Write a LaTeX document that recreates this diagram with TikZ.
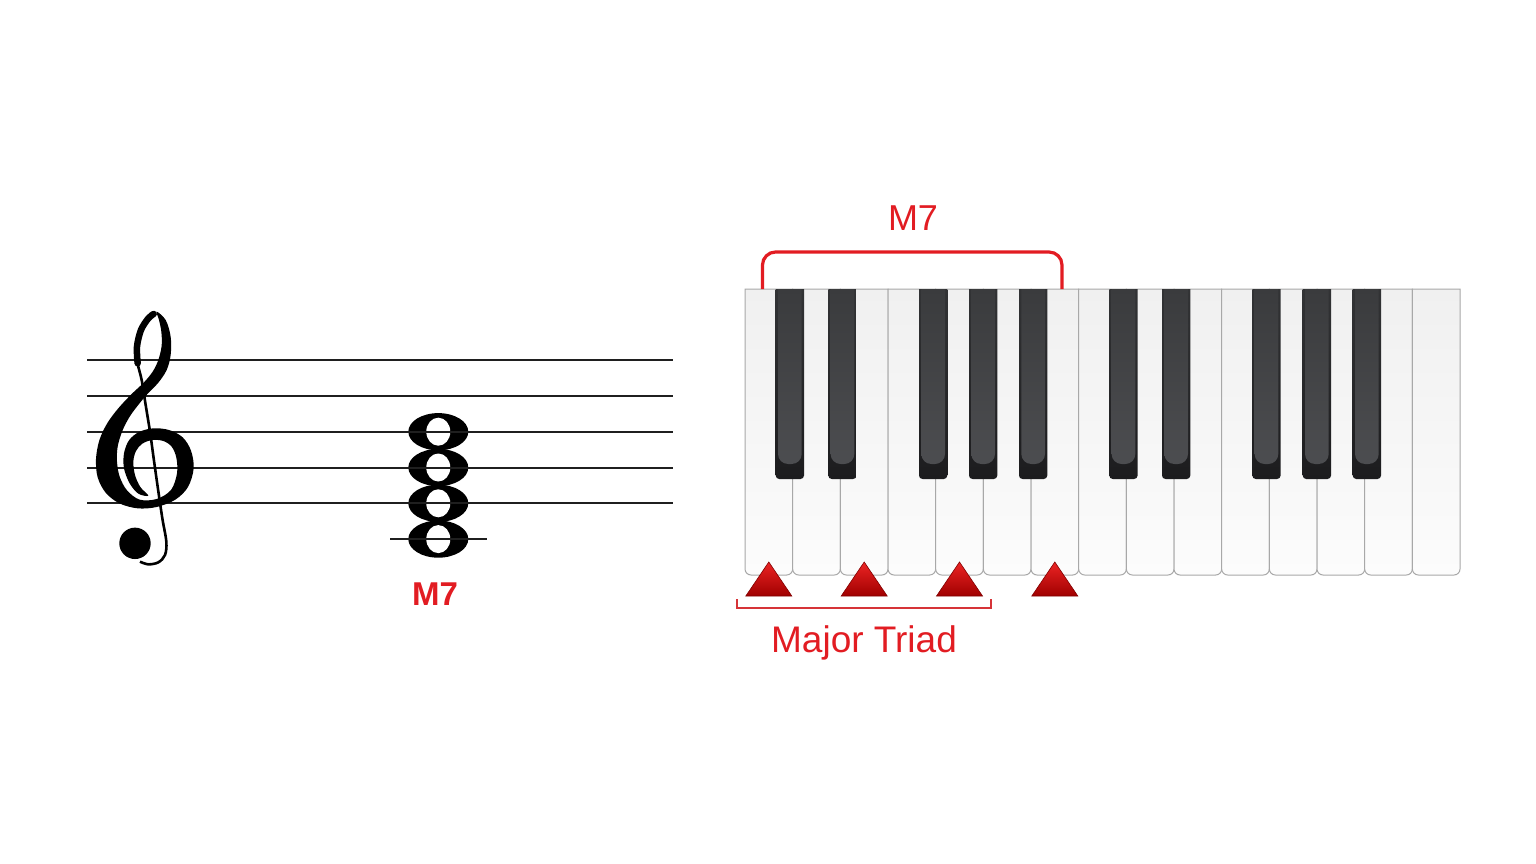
\documentclass[tikz,border=0pt]{standalone}
\usepackage{fontspec}
\setmainfont{Liberation Sans}
\definecolor{mred}{RGB}{226,28,34}
\definecolor{bred}{RGB}{214,52,56}
\definecolor{tria}{RGB}{236,36,36}
\definecolor{trib}{RGB}{160,0,0}
\definecolor{tric}{RGB}{130,0,0}
\definecolor{wka}{RGB}{240,240,240}
\definecolor{wkb}{RGB}{252,252,252}
\definecolor{wkline}{RGB}{168,168,168}
\definecolor{bka}{RGB}{50,51,53}
\definecolor{bkb}{RGB}{28,28,30}
\definecolor{bkc}{RGB}{58,59,61}
\definecolor{bkd}{RGB}{76,77,80}
\begin{document}
\begin{tikzpicture}[x=1pt,y=-1pt,
  staffline/.style={line width=2pt, black!88},
  wkey/.style={draw=wkline, line width=1pt, top color=wka, bottom color=wkb},
  bkey/.style={top color=bka, bottom color=bkb},
  bkhi/.style={top color=bkc, bottom color=bkd},
  tri/.style={top color=tria, bottom color=trib, draw=tric, line width=0.6pt},
  lbl/.style={anchor=base, inner sep=0pt}]
\useasboundingbox (0,0) rectangle (1536,864);
\fill[white] (0,0) rectangle (1536,864);

% ---------- staff ----------
\foreach \n/\y in {a/431.7,b/467.5,c/503.3,d/539.1}{
  \fill (438.3,\y) ellipse[x radius=30pt, y radius=18.6pt];
}
\foreach \n/\y in {a/431.7,b/467.5,c/503.3,d/539.1}{
  \fill[white] (438.3,\y) ellipse[x radius=12pt, y radius=14pt];
}
\foreach \y in {360,395.8,431.7,467.5,503.3}{
  \draw[staffline] (87,\y) -- (673,\y);
}
\draw[staffline] (390,539.1) -- (487,539.1);
\node[lbl, text=mred, font=\fontsize{33}{36}\selectfont\bfseries] (chordname) at (435,605) {M7};

% ---------- treble clef ----------
\begin{scope}[shift={(85,305)}, x=0.33333pt, y=-0.33333pt]
\fill plot[smooth cycle, tension=0.55] coordinates {
 (215,20) (242,45) (257,95) (257,150) (245,195) (220,233) (190,264) (162,297)
 (134,335) (112,378) (98,425) (96,470) (104,515) (126,556) (164,584) (215,582)
 (258,555) (276,505) (274,458) (260,425) (235,408) (202,405) (172,416) (153,438)
 (145,470) (150,510) (166,546) (190,572)
 (160,566) (134,535) (117,490) (117,445) (132,406) (162,381) (205,370) (252,375)
 (293,397) (318,437) (326,490) (309,546) (271,584) (215,606) (158,610) (103,595)
 (62,563) (38,517) (33,462) (43,406) (66,356) (99,311) (139,268) (176,233)
 (203,200) (220,165) (230,122) (229,80) (222,45)};
\draw[line width=2.6pt] plot[smooth, tension=0.55] coordinates {
 (212,22) (190,40) (168,75) (156,125) (158,175) (170,225) (182,300) (195,380)
 (206,460) (218,545) (232,640) (244,710) (240,750) (220,772) (190,778) (165,770)};
\draw[line width=6.5pt, line cap=round] plot[smooth, tension=0.55] coordinates {
 (206,27) (190,40) (168,75) (156,125) (158,175)};
\fill (150,715) circle[radius=15.7pt];
\end{scope}

% ---------- keyboard ----------
\foreach \i in {0,...,14}{
  \pgfmathsetmacro\xa{745+\i*47.667}
  \pgfmathsetmacro\xb{\xa+47.667}
  \path[wkey] (\xa,289) [rounded corners=6pt] -- (\xa,575) -- (\xb,575) [sharp corners] -- (\xb,289) -- cycle;
}
\foreach \bx in {775.7,828.3,919,969,1019,1109.3,1162,1252.3,1302.7,1352.7}{
  \pgfmathsetmacro\bxr{\bx+28.3}
  \pgfmathsetmacro\hxa{\bx+2.3}
  \pgfmathsetmacro\hxb{\bx+26}
  \path[bkey] (\bx,289) [rounded corners=3.5pt] -- (\bx,479) -- (\bxr,479) [sharp corners] -- (\bxr,289) -- cycle;
  \path[bkhi] (\hxa,289) [rounded corners=10pt] -- (\hxa,464) -- (\hxb,464) [sharp corners] -- (\hxb,289) -- cycle;
}

% ---------- top bracket ----------
\coordinate (m7a) at (762.5,289);
\coordinate (m7b) at (1062,289);
\draw[mred, line width=3.2pt, rounded corners=13pt] (m7a) -- ++(0,-37) -| (m7b);
\node[lbl, text=mred, font=\fontsize{36}{40}\selectfont] (topname) at (913,230) {M7};

% ---------- triangles ----------
\foreach \n/\cx in {t1/768.8,t2/864.2,t3/959.5,t4/1054.8}{
  \path[tri] (\cx-23,596) -- (\cx,562) -- (\cx+23,596) -- cycle;
}

% ---------- lower bracket ----------
\coordinate (tra) at (737,599);
\coordinate (trb) at (991,599);
\draw[bred, line width=2pt] (tra) -- ++(0,9) -| (trb);
\node[lbl, text=mred, font=\fontsize{37}{40}\selectfont] (triad) at (864,652) {Major Triad};
\end{tikzpicture}
\end{document}
